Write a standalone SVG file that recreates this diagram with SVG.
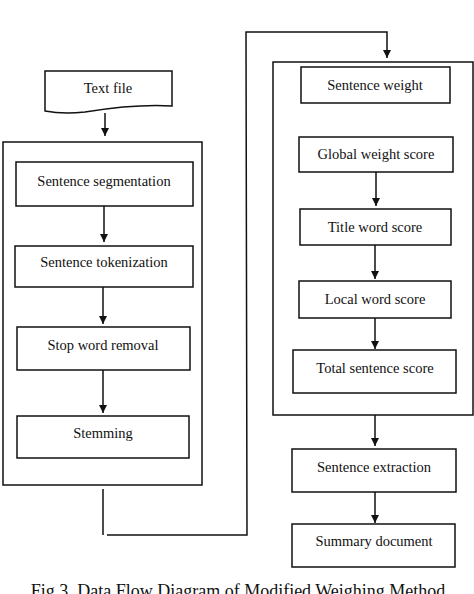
<svg xmlns="http://www.w3.org/2000/svg" width="474" height="594" viewBox="0 0 474 594">
<style>
.b{fill:#fff;stroke:#111;stroke-width:1.5}
.c{fill:none;stroke:#111;stroke-width:1.5}
.t{font-family:"Liberation Serif",serif;font-size:14.5px;fill:#111;text-anchor:middle}
.cap{font-family:"Liberation Serif",serif;font-size:18px;fill:#111;text-anchor:middle}
</style>
<defs>
<marker id="ah" viewBox="0 0 10 10" refX="10" refY="5" markerWidth="8" markerHeight="8" markerUnits="userSpaceOnUse" orient="auto">
<path d="M0,0 L10,5 L0,10 z" fill="#111"/>
</marker>
</defs>
<rect width="474" height="594" fill="#fff"/>
<g id="containers">
<rect id="preprocess" class="b" x="3" y="142" width="199" height="343"/>
<rect id="weighting" class="b" x="273" y="62" width="200" height="353"/>
</g>
<g id="connectors">
<line class="c" x1="105" y1="113" x2="105" y2="136" marker-end="url(#ah)"/>
<line class="c" x1="104" y1="206" x2="104" y2="242" marker-end="url(#ah)"/>
<line class="c" x1="103" y1="287" x2="103" y2="324" marker-end="url(#ah)"/>
<line class="c" x1="103" y1="370" x2="103" y2="413" marker-end="url(#ah)"/>
<line class="c" x1="103" y1="489" x2="103" y2="535"/>
<polyline class="c" points="107,535 247,535 246,32 387,32 387,58" marker-end="url(#ah)"/>
<line class="c" x1="376" y1="172" x2="376" y2="206" marker-end="url(#ah)"/>
<line class="c" x1="375" y1="245" x2="375" y2="279" marker-end="url(#ah)"/>
<line class="c" x1="375" y1="318" x2="375" y2="349" marker-end="url(#ah)"/>
<line class="c" x1="375" y1="415" x2="375" y2="446" marker-end="url(#ah)"/>
<line class="c" x1="375" y1="492" x2="375" y2="523" marker-end="url(#ah)"/>
</g>
<g id="text-file">
<path class="b" d="M45,71 H172 V106 C140,104 110,108 85,112 C68,114 55,113 45,111 Z"/>
<text class="t" x="108" y="93">Text file</text>
</g>
<g id="sentence-segmentation">
<rect class="b" x="16" y="162" width="177" height="44"/>
<text class="t" x="104" y="186">Sentence segmentation</text>
</g>
<g id="sentence-tokenization">
<rect class="b" x="15" y="246" width="178" height="41"/>
<text class="t" x="104" y="267">Sentence tokenization</text>
</g>
<g id="stop-word-removal">
<rect class="b" x="17" y="327" width="173" height="43"/>
<text class="t" x="103" y="350">Stop word removal</text>
</g>
<g id="stemming">
<rect class="b" x="17" y="416" width="172" height="42"/>
<text class="t" x="103" y="438">Stemming</text>
</g>
<g id="sentence-weight">
<rect class="b" x="301" y="67" width="149" height="36"/>
<text class="t" x="375" y="90">Sentence weight</text>
</g>
<g id="global-weight-score">
<rect class="b" x="299" y="137" width="154" height="35"/>
<text class="t" x="376" y="159">Global weight score</text>
</g>
<g id="title-word-score">
<rect class="b" x="300" y="209" width="151" height="36"/>
<text class="t" x="375" y="232">Title word score</text>
</g>
<g id="local-word-score">
<rect class="b" x="299" y="281" width="152" height="37"/>
<text class="t" x="375" y="304">Local word score</text>
</g>
<g id="total-sentence-score">
<rect class="b" x="293" y="350" width="163" height="43"/>
<text class="t" x="375" y="373">Total sentence score</text>
</g>
<g id="sentence-extraction">
<rect class="b" x="292" y="449" width="164" height="43"/>
<text class="t" x="374" y="472">Sentence extraction</text>
</g>
<g id="summary-document">
<rect class="b" x="292" y="524" width="163" height="43"/>
<text class="t" x="374" y="546">Summary document</text>
</g>
<text class="cap" x="238" y="597">Fig 3. Data Flow Diagram of Modified Weighing Method</text>
</svg>
